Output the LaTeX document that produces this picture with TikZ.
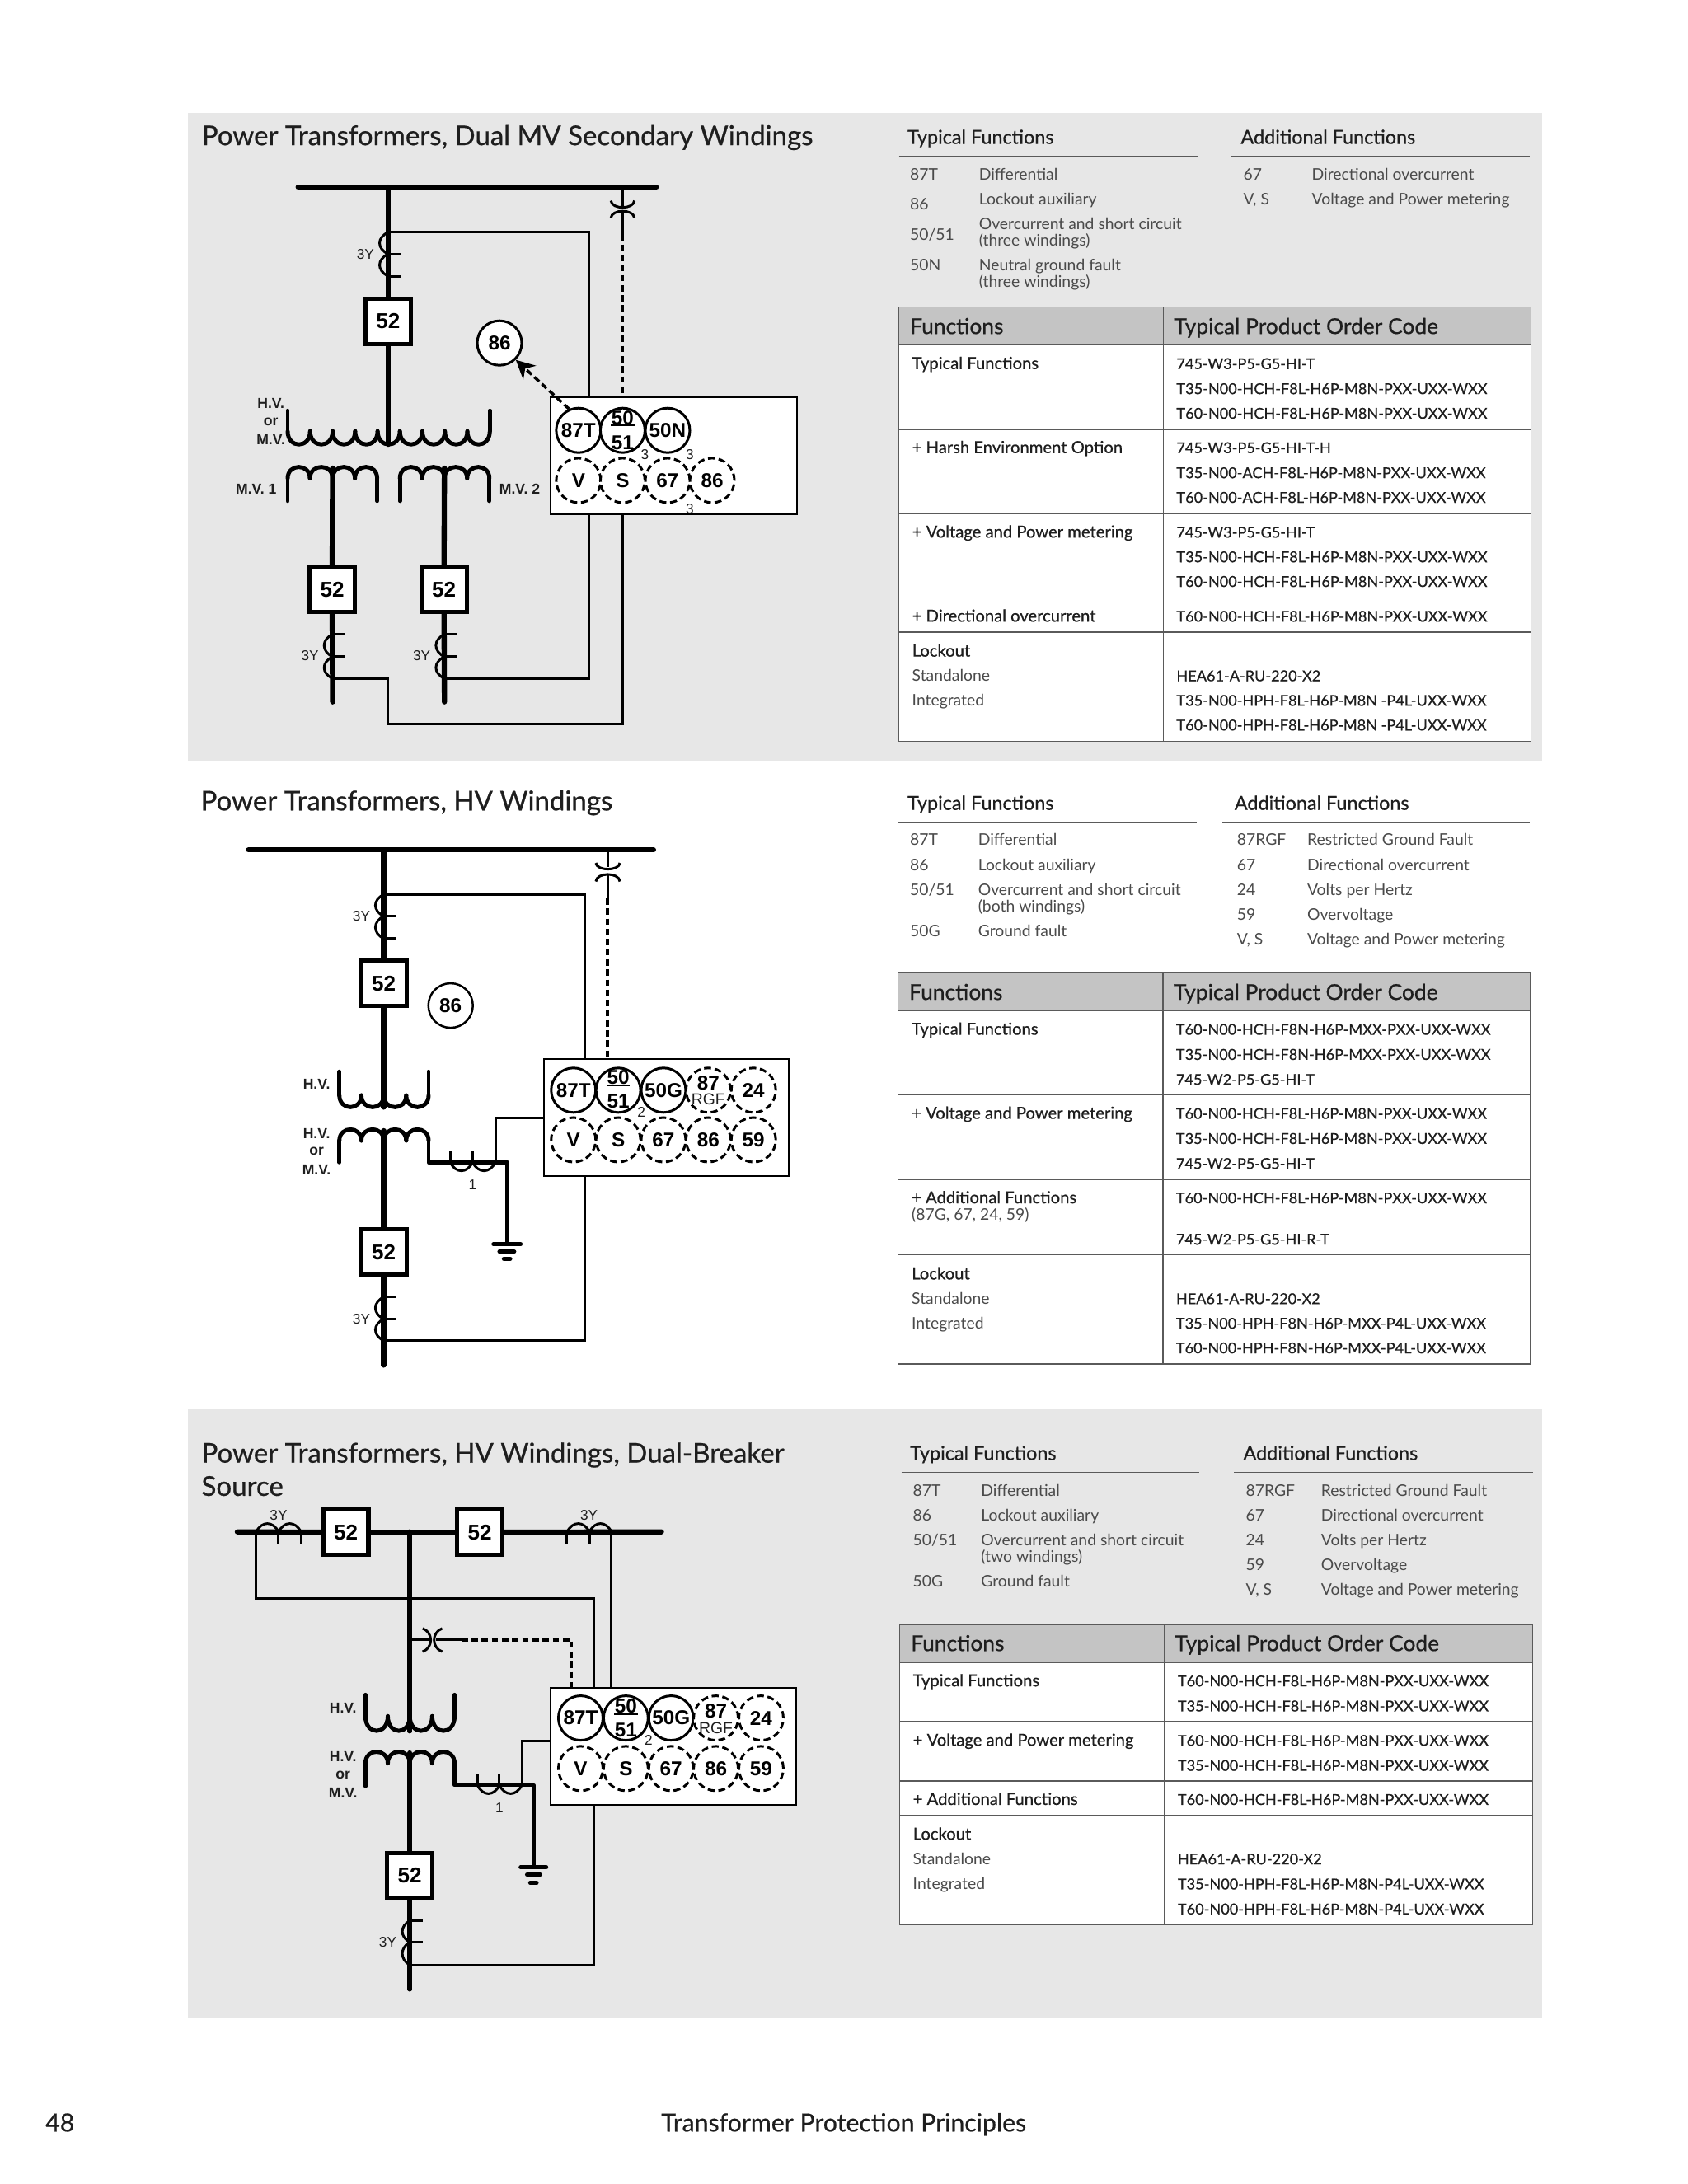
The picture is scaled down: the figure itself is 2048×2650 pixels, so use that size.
\documentclass[tikz,border=0pt]{standalone}
\usepackage{fontspec}
\usetikzlibrary{arrows.meta}
\setmainfont{Lato}
\newfontfamily\gebody{Lato}
\newfontfamily\gemed[FakeBold=0.6]{Lato}
\newfontfamily\relayf{Liberation Sans}
\definecolor{panelgrey}{HTML}{E7E7E7}
\definecolor{headgrey}{HTML}{C4C4C4}
\definecolor{bodygrey}{HTML}{4A4A4A}
\definecolor{darktxt}{HTML}{1E1E1E}
\definecolor{tablegrey}{HTML}{5A5A5A}
\tikzset{
  zone/.style n args={4}{shift={(#1,#2)},x=#3cm,y=-#4cm},
  bus/.style={line width=1.8pt,line cap=round,line join=round},
  wire/.style={line width=.85pt},
  wind/.style={line width=1.4pt,line cap=round,line join=round},
  dashlink/.style={line width=1pt,dash pattern=on 2.2pt off 1.3pt},
  brk/.style={draw,fill=white,line width=1.45pt,minimum size=.55cm,inner sep=0pt,font=\relayf\bfseries\fontsize{7.4pt}{9pt}\selectfont},
  relay/.style={circle,draw,fill=white,line width=.85pt,minimum size=.54cm,inner sep=0pt,font=\relayf\bfseries\fontsize{6.9pt}{8pt}\selectfont},
  relayopt/.style={relay,dash pattern=on 2.4pt off 1.3pt},
  relaybox/.style={draw,fill=white,line width=.55pt,inner sep=0pt},
  rtxt/.style={inner sep=0pt,font=\relayf\bfseries\fontsize{6.9pt}{8pt}\selectfont},
  small/.style={inner sep=0pt,text=darktxt,font=\relayf\fontsize{4.9pt}{6pt}\selectfont},
  tag/.style={inner sep=0pt,align=right,text=darktxt,font=\relayf\bfseries\fontsize{5pt}{6pt}\selectfont},
  ttl/.style={anchor=west,xshift=-.4pt,inner sep=0pt,text=darktxt,text height=8.2pt,text depth=1.8pt,font=\gemed\fontsize{9.4pt}{11pt}\selectfont},
  head/.style={anchor=west,xshift=-.4pt,inner sep=0pt,text=darktxt,text height=5.6pt,text depth=1.2pt,font=\gemed\fontsize{6.65pt}{8pt}\selectfont},
  col/.style={anchor=west,xshift=-.4pt,inner sep=0pt,text=darktxt,text height=6.2pt,text depth=1.4pt,font=\gemed\fontsize{7.5pt}{9pt}\selectfont},
  txt/.style={anchor=west,xshift=-.4pt,inner sep=0pt,text=bodygrey,text height=5.2pt,text depth=1.1pt,font=\gebody\fontsize{5.5pt}{7pt}\selectfont},
  lab/.style={anchor=west,xshift=-.4pt,inner sep=0pt,text=darktxt,text height=5.2pt,text depth=1.1pt,font=\gemed\fontsize{5.75pt}{7pt}\selectfont},
  code/.style={anchor=west,xshift=-.4pt,inner sep=0pt,text=darktxt,text height=5.2pt,text depth=1.1pt,font=\gemed\fontsize{5.15pt}{7pt}\selectfont},
  rule/.style={line width=.3pt,draw=tablegrey},
  tbl/.style={line width=.4pt,draw=tablegrey}
}
% two coils on a vertical or a horizontal run
\newcommand{\coilv}[5]{\draw[wire] (#1,#2) .. controls (#5,{#2+.25*(#3-#2)}) and (#5,{#2+.75*(#3-#2)}) .. (#1,#3) .. controls (#5,{#3+.25*(#4-#3)}) and (#5,{#3+.75*(#4-#3)}) .. (#1,#4);}
\newcommand{\coilh}[5]{\draw[wire] (#2,#1) .. controls ({#2+.25*(#3-#2)},#5) and ({#2+.75*(#3-#2)},#5) .. (#3,#1) .. controls ({#3+.25*(#4-#3)},#5) and ({#3+.75*(#4-#3)},#5) .. (#4,#1);}
\begin{document}
\begin{tikzpicture}[x=0.01cm,y=-0.01cm]
\useasboundingbox (0,0) rectangle (2048,2650);
\fill[panelgrey] (228,137) rectangle (1871,923);
\fill[panelgrey] (228,1710) rectangle (1871,2448);

%% first diagram
\begin{scope}[zone={220}{130}{.005102}{.004975}]
\node[ttl] (aTitle) at (50,70) {Power Transformers, Dual MV Secondary Windings};
\coordinate (aBusW) at (278,195);
\coordinate (aBusE) at (1130,195);
\coordinate (aTap) at (492,195);
\coordinate (aVt) at (1050,195);
\node[brk] (aBrk) at (492,522) {52};
\node[brk] (aBrkL) at (359,1176) {52};
\node[brk] (aBrkR) at (625,1176) {52};
\node[relaybox,minimum width=2.995cm,minimum height=1.42cm] (aRelay) at (1171.5,850) {};
\coordinate (aCtT) at (492,305);
\coordinate (aCtL) at (360,1393);
\coordinate (aCtR) at (626,1393);
\coordinate (aTie) at (970,305);
\coordinate (aLow) at (492,1503);
\draw[bus] (aBusW) -- (aBusE);
\draw[bus] (aTap) -- (aBrk.north);
\draw[bus] (aBrk.south) -- (492,822);
\draw[bus] (360,880) -- (aBrkL.north);
\draw[bus] (626,880) -- (aBrkR.north);
\draw[bus] (aBrkL.south) -- (360,1450);
\draw[bus] (aBrkR.south) -- (626,1450);
\draw[wire] (aCtT) -- (aTie) -- (aTie |- aRelay.north);
\draw[wire] (aTie |- aRelay.south) -- (aTie |- aCtR) -- (aCtR);
\draw[wire] (aCtL) -- (aLow |- aCtL) -- (aLow) -- (1050,1503) -- (1050,993);
\coilv{492}{305}{358}{412}{465}
\coilv{360}{1285}{1340}{1393}{333}
\coilv{626}{1285}{1340}{1393}{599}
\draw[wire] (492,358) -- (522,358) (492,412) -- (522,412);
\draw[wire] (360,1285) -- (388,1285) (360,1340) -- (388,1340);
\draw[wire] (626,1285) -- (656,1285) (626,1340) -- (656,1340);
% potential transformer
\draw[wire] (aVt) -- (1050,242);
\draw[wire] (1022,228) .. controls (1024,250) and (1076,250) .. (1078,228);
\draw[wire] (1022,270) .. controls (1024,248) and (1076,248) .. (1078,270);
\draw[wire] (1050,255) -- (1050,310);
\draw[dashlink] (1050,310) -- (aVt |- aRelay.north);
% windings
\draw[wind] (253,740) -- (253,790) (734,740) -- (734,790);
\foreach \xa/\xb in {253/306.5,306.5/360,360/413.5,413.5/467,467/520,520/573.5,573.5/627,627/680.5,680.5/734}
  \draw[wind] (\xa,790) .. controls (\xa,833) and (\xb,833) .. (\xb,790);
\draw[wind] (253,960) -- (253,905) (466,960) -- (466,905) (520,960) -- (520,905) (733,960) -- (733,905);
\foreach \xa/\xb in {253/306,306/360,360/413,413/466,520/573,573/626,626/680,680/733}
  \draw[wind] (\xa,905) .. controls (\xa,868) and (\xb,868) .. (\xb,905);
\node[tag] (aHv) at (213,722) {H.V.};
\node[tag] (aOr) at (213,767) {or};
\node[tag] (aMv) at (213,810) {M.V.};
\node[tag] (aMvL) at (178,931) {M.V. 1};
\node[tag] (aMvR) at (805,931) {M.V. 2};
\node[small] (aYt) at (438,358) {3Y};
\node[small] (aYl) at (306,1338) {3Y};
\node[small] (aYr) at (572,1338) {3Y};
\node[relay] (aLock) at (757,575) {86};
\foreach \xa/\lab [count=\n] in {945/87T,1050/,1157/50N}
  \node[relay] (aOn\n) at (\xa,788) {\lab};
\foreach \xa/\lab [count=\n] in {945/V,1050/S,1157/67,1263/86}
  \node[relayopt] (aOpt\n) at (\xa,910) {\lab};
\node[rtxt] (aF) at (1050,757) {50};
\node[rtxt] (aG) at (1050,818) {51};
\draw[wire,line width=.6pt,yshift=-.5pt] (aF.south west) -- (aF.south east);
\node[small] (aNa) at (1103,848) {3};
\node[small] (aNb) at (1210,848) {3};
\node[small] (aNc) at (1210,980) {3};
\draw[dashlink,-{Stealth[length=6.5pt,width=6.5pt]}] (aOn1.114) -- (aLock.-46);
\end{scope}

%% first tables
\begin{scope}[zone={1060}{130}{.005102}{.004975}]
\node[head] (aHa) at (82,74) {Typical Functions};
\node[head] (aHb) at (875,74) {Additional Functions};
\draw[rule] (60,120) -- (770,120) (851,120) -- (1560,120);
\foreach \ya/\lab [count=\n] in {163/87T,236/86,310/{50/51},385/50N}
  \node[txt] (aCa\n) at (88,\ya) {\lab};
\foreach \ya/\lab [count=\n] in {163/Differential,223/Lockout auxiliary,284/Overcurrent and short circuit,325/(three windings),385/Neutral ground fault,425/(three windings)}
  \node[txt] (aCb\n) at (252,\ya) {\lab};
\node[txt] (aCc) at (881,163) {67};
\node[txt] (aCd) at (881,223) {V, S};
\node[txt] (aCe) at (1044,163) {Directional overcurrent};
\node[txt] (aCf) at (1044,223) {Voltage and Power metering};
\fill[white] (60,487) rectangle (1564,1546);
\fill[headgrey] (60,487) rectangle (1564,580);
\draw[tbl] (60,487) rectangle (1564,1546);
\foreach \ya in {580,786,991,1196,1280} \draw[tbl] (60,\ya) -- (1564,\ya);
\draw[tbl] (689,487) -- (689,1546);
\node[col] (aTa) at (88,536) {Functions};
\node[col] (aTb) at (716,536) {Typical Product Order Code};
\foreach \ya/\lab [count=\n] in {624/Typical Functions,829/+ Harsh Environment Option,1035/+ Voltage and Power metering,1240/+ Directional overcurrent,1325/Lockout}
  \node[lab] (aRa\n) at (93,\ya) {\lab};
\node[txt] (aRs) at (93,1385) {Standalone};
\node[txt] (aRi) at (93,1445) {Integrated};
\foreach \ya/\lab [count=\n] in {624/745-W3-P5-G5-HI-T,685/T35-N00-HCH-F8L-H6P-M8N-PXX-UXX-WXX,745/T60-N00-HCH-F8L-H6P-M8N-PXX-UXX-WXX,829/745-W3-P5-G5-HI-T-H,890/T35-N00-ACH-F8L-H6P-M8N-PXX-UXX-WXX,950/T60-N00-ACH-F8L-H6P-M8N-PXX-UXX-WXX,1035/745-W3-P5-G5-HI-T,1095/T35-N00-HCH-F8L-H6P-M8N-PXX-UXX-WXX,1155/T60-N00-HCH-F8L-H6P-M8N-PXX-UXX-WXX,1240/T60-N00-HCH-F8L-H6P-M8N-PXX-UXX-WXX,1385/HEA61-A-RU-220-X2,1445/T35-N00-HPH-F8L-H6P-M8N -P4L-UXX-WXX,1505/T60-N00-HPH-F8L-H6P-M8N -P4L-UXX-WXX}
  \node[code] (aRb\n) at (722,\ya) {\lab};
\end{scope}

%% second diagram
\begin{scope}[zone={220}{930}{.004847}{.004783}]
\node[ttl] (bTitle) at (50,88) {Power Transformers, HV Windings};
\coordinate (bBusW) at (168,212);
\coordinate (bBusE) at (1180,212);
\coordinate (bTap) at (506,212);
\coordinate (bVt) at (1065,212);
\node[brk] (bBrk) at (506,551) {52};
\node[brk] (bBrkL) at (506,1233) {52};
\node[relaybox,minimum width=2.97cm,minimum height=1.415cm] (bRelay) at (1212.5,892) {};
\coordinate (bCtT) at (506,325);
\coordinate (bCtL) at (506,1458);
\coordinate (bTie) at (1008,325);
\coordinate (bNeu) at (618,1005);
\coordinate (bGnd) at (815,1210);
\coordinate (bCtN) at (785,1005);
\draw[bus] (bBusW) -- (bBusE);
\draw[bus] (bTap) -- (bBrk.north);
\draw[bus] (bBrk.south) -- (506,865);
\draw[bus] (506,925) -- (bBrkL.north);
\draw[bus] (bBrkL.south) -- (506,1520);
\draw[wire] (bCtT) -- (bTie) -- (bTie |- bRelay.north);
\draw[wire] (bTie |- bRelay.south) -- (bTie |- bCtL) -- (bCtL);
\coilv{506}{325}{380}{437}{478}
\coilv{506}{1347}{1403}{1458}{478}
\draw[wire] (506,380) -- (538,380) (506,437) -- (538,437);
\draw[wire] (506,1347) -- (538,1347) (506,1403) -- (538,1403);
\draw[wire] (bVt) -- (1065,256);
\draw[wire] (1036,245) .. controls (1038,266) and (1094,266) .. (1096,245);
\draw[wire] (1036,292) .. controls (1038,268) and (1094,268) .. (1096,292);
\draw[wire] (1065,272) -- (1065,335);
\draw[dashlink] (1065,335) -- (bVt |- bRelay.north);
\draw[wind] (395,775) -- (395,835) (618,775) -- (618,835);
\foreach \xa/\xb in {395/450,450/506,506/562,562/618}
  \draw[wind] (\xa,835) .. controls (\xa,875) and (\xb,875) .. (\xb,835);
\foreach \xa/\xb in {395/450,450/506,506/562,562/618}
  \draw[wind] (\xa,950) .. controls (\xa,912) and (\xb,912) .. (\xb,950);
\draw[wind] (395,950) -- (395,1005);
\draw[wind] (618,950) -- (bNeu) -- (bNeu -| bGnd) -- (bGnd);
\draw[wind] (780,1213) -- (848,1213);
\draw[wind] (795,1232) -- (832,1232);
\draw[wind] (806,1250) -- (822,1250);
\coilh{1005}{672}{728}{785}{1034}
\draw[wire] (672,1005) -- (672,975) (728,1005) -- (728,975);
\draw[wire] (bCtN) -- (785,892) -- (905,892);
\node[small] (bOne) at (728,1062) {1};
\node[tag] (bHv) at (338,807) {H.V.};
\node[tag] (bHw) at (338,932) {H.V.};
\node[tag] (bOr) at (338,978) {or};
\node[tag] (bMv) at (338,1024) {M.V.};
\node[small] (bYt) at (450,380) {3Y};
\node[small] (bYl) at (450,1403) {3Y};
\node[relay,line width=.7pt] (bLock) at (673,607) {86};
\foreach \xa/\lab [count=\n] in {980/87T,1092/,1205/50G}
  \node[relay] (bOn\n) at (\xa,822) {\lab};
\node[relayopt] (bOn4) at (1317,822) {};
\node[relayopt] (bOn5) at (1430,822) {24};
\foreach \xa/\lab [count=\n] in {980/V,1092/S,1205/67,1317/86,1430/59}
  \node[relayopt] (bOpt\n) at (\xa,948) {\lab};
\node[rtxt] (bF) at (1092,790) {50};
\node[rtxt] (bG) at (1092,851) {51};
\draw[wire,line width=.6pt,yshift=-.5pt] (bF.south west) -- (bF.south east);
\node[rtxt] (bH) at (1317,803) {87};
\node[small,font=\relayf\fontsize{5.5pt}{6pt}\selectfont] (bI) at (1317,846) {RGF};
\node[small] (bNa) at (1150,878) {2};
\end{scope}

%% second tables
\begin{scope}[zone={1060}{940}{.005102}{.004592}]
\node[head] (bHa) at (82,76) {Typical Functions};
\node[head] (bHb) at (860,76) {Additional Functions};
\draw[rule] (58,125) -- (768,125) (830,125) -- (1560,125);
\foreach \ya/\lab [count=\n] in {171/87T,237/86,303/{50/51},412/50G}
  \node[txt] (bCa\n) at (88,\ya) {\lab};
\foreach \ya/\lab [count=\n] in {171/Differential,237/Lockout auxiliary,303/Overcurrent and short circuit,347/(both windings),412/Ground fault}
  \node[txt] (bCb\n) at (250,\ya) {\lab};
\foreach \ya/\lab [count=\n] in {171/87RGF,237/67,303/24,369/59,434/{V, S}}
  \node[txt] (bCc\n) at (866,\ya) {\lab};
\foreach \ya/\lab [count=\n] in {171/Restricted Ground Fault,237/Directional overcurrent,303/Volts per Hertz,369/Overvoltage,434/Voltage and Power metering}
  \node[txt] (bCd\n) at (1033,\ya) {\lab};
\fill[headgrey] (58,522) rectangle (1563,624);
\draw[tbl] (58,522) rectangle (1563,1556);
\foreach \ya in {624,846,1068,1268} \draw[tbl] (58,\ya) -- (1563,\ya);
\draw[tbl] (688,522) -- (688,1556);
\node[col] (bTa) at (86,576) {Functions};
\node[col] (bTb) at (715,576) {Typical Product Order Code};
\foreach \ya/\lab [count=\n] in {671/Typical Functions,893/+ Voltage and Power metering,1116/+ Additional Functions,1317/Lockout}
  \node[lab] (bRa\n) at (92,\ya) {\lab};
\node[txt] (bRx) at (92,1160) {(87G, 67, 24, 59)};
\node[txt] (bRs) at (92,1382) {Standalone};
\node[txt] (bRi) at (92,1447) {Integrated};
\foreach \ya/\lab [count=\n] in {671/T60-N00-HCH-F8N-H6P-MXX-PXX-UXX-WXX,737/T35-N00-HCH-F8N-H6P-MXX-PXX-UXX-WXX,803/745-W2-P5-G5-HI-T,893/T60-N00-HCH-F8L-H6P-M8N-PXX-UXX-WXX,959/T35-N00-HCH-F8L-H6P-M8N-PXX-UXX-WXX,1025/745-W2-P5-G5-HI-T,1116/T60-N00-HCH-F8L-H6P-M8N-PXX-UXX-WXX,1225/745-W2-P5-G5-HI-R-T,1382/HEA61-A-RU-220-X2,1447/T35-N00-HPH-F8N-H6P-MXX-P4L-UXX-WXX,1512/T60-N00-HPH-F8N-H6P-MXX-P4L-UXX-WXX}
  \node[code] (bRb\n) at (721,\ya) {\lab};
\end{scope}

%% third diagram
\begin{scope}[zone={220}{1720}{.004847}{.004464}]
\node[ttl] (cTitle) at (52,97) {Power Transformers, HV Windings, Dual-Breaker};
\node[ttl] (cTitleb) at (52,187) {Source};
\coordinate (cBusW) at (140,310);
\coordinate (cBusE) at (1200,310);
\coordinate (cTap) at (571,310);
\node[brk] (cBrkL) at (411,311) {52};
\node[brk] (cBrkR) at (746,311) {52};
\node[brk] (cBrk) at (571,1243) {52};
\node[relaybox,minimum width=2.98cm,minimum height=1.42cm] (cRelay) at (1230.5,892.5) {};
\coordinate (cCtL) at (187,310);
\coordinate (cCtR) at (1075,310);
\coordinate (cTie) at (1030,491);
\coordinate (cCtB) at (571,1485);
\coordinate (cNeu) at (683,997);
\coordinate (cGnd) at (880,1218);
\coordinate (cCtN) at (851,997);
\draw[bus] (cBusW) -- (cBrkL.west);
\draw[bus] (cBrkL.east) -- (cBrkR.west);
\draw[bus] (cBrkR.east) -- (cBusE);
\draw[bus] (cTap) -- (571,850);
\draw[bus] (571,910) -- (cBrk.north);
\draw[bus] (cBrk.south) -- (571,1550);
\draw[wire] (cCtL) -- (cCtL |- cTie) -- (cTie) -- (cTie |- cRelay.north);
\draw[wire] (cTie |- cRelay.south) -- (cTie |- cCtB) -- (cCtB);
\draw[wire] (cCtR) -- (cCtR |- cRelay.north);
\coilh{310}{187}{243}{299}{280}
\draw[wire] (243,310) -- (243,345) (299,310) -- (299,345);
\coilh{310}{964}{1020}{1075}{280}
\draw[wire] (964,310) -- (964,345) (1020,310) -- (1020,345);
\coilv{571}{1365}{1423}{1485}{546}
\draw[wire] (571,1365) -- (603,1365) (571,1423) -- (603,1423);
% potential transformer
\draw[wire] (571,603) -- (620,603);
\draw[wire] (603,572) .. controls (630,582) and (630,625) .. (603,635);
\draw[wire] (652,572) .. controls (625,582) and (625,625) .. (652,635);
\draw[wire] (637,603) -- (700,603);
\draw[dashlink] (700,603) -- (975,603) -- (975,733);
\draw[wind] (460,752) -- (460,810) (683,752) -- (683,810);
\foreach \xa/\xb in {460/516,516/571,571/627,627/683}
  \draw[wind] (\xa,810) .. controls (\xa,863) and (\xb,863) .. (\xb,810);
\foreach \xa/\xb in {460/516,516/571,571/627,627/683}
  \draw[wind] (\xa,938) .. controls (\xa,896) and (\xb,896) .. (\xb,938);
\draw[wind] (460,938) -- (460,1000);
\draw[wind] (683,938) -- (cNeu) -- (cNeu -| cGnd) -- (cGnd);
\draw[wind] (848,1220) -- (912,1220);
\draw[wind] (864,1240) -- (897,1240);
\draw[wind] (872,1262) -- (888,1262);
\coilh{997}{740}{795}{851}{1028}
\draw[wire] (740,997) -- (740,968) (795,997) -- (795,968);
\draw[wire] (cCtN) -- (851,878) -- (922,878);
\node[small] (cOne) at (795,1058) {1};
\node[tag] (cHv) at (404,787) {H.V.};
\node[tag] (cHw) at (404,920) {H.V.};
\node[tag] (cOr) at (404,970) {or};
\node[tag] (cMv) at (404,1018) {M.V.};
\node[small] (cYa) at (243,264) {3Y};
\node[small] (cYb) at (1019,264) {3Y};
\node[small] (cYc) at (516,1423) {3Y};
\foreach \xa/\lab [count=\n] in {998/87T,1111/,1224/50G}
  \node[relay] (cOn\n) at (\xa,815) {\lab};
\node[relayopt] (cOn4) at (1336,815) {};
\node[relayopt] (cOn5) at (1449,815) {24};
\foreach \xa/\lab [count=\n] in {998/V,1111/S,1224/67,1336/86,1449/59}
  \node[relayopt] (cOpt\n) at (\xa,952) {\lab};
\node[rtxt] (cF) at (1111,783) {50};
\node[rtxt] (cG) at (1111,848) {51};
\draw[wire,line width=.6pt,yshift=-.5pt] (cF.south west) -- (cF.south east);
\node[rtxt] (cH) at (1336,797) {87};
\node[small,font=\relayf\fontsize{5.5pt}{6pt}\selectfont] (cI) at (1336,842) {RGF};
\node[small] (cNa) at (1168,876) {2};
\end{scope}

%% third tables
\begin{scope}[zone={1060}{1720}{.005102}{.004592}]
\node[head] (cHa) at (88,95) {Typical Functions};
\node[head] (cHb) at (881,95) {Additional Functions};
\draw[rule] (66,145) -- (775,145) (857,145) -- (1568,145);
\foreach \ya/\lab [count=\n] in {191/87T,257/86,323/{50/51},431/50G}
  \node[txt] (cCa\n) at (95,\ya) {\lab};
\foreach \ya/\lab [count=\n] in {191/Differential,257/Lockout auxiliary,323/Overcurrent and short circuit,366/(two windings),431/Ground fault}
  \node[txt] (cCb\n) at (257,\ya) {\lab};
\foreach \ya/\lab [count=\n] in {191/87RGF,257/67,323/24,388/59,453/{V, S}}
  \node[txt] (cCc\n) at (887,\ya) {\lab};
\foreach \ya/\lab [count=\n] in {191/Restricted Ground Fault,257/Directional overcurrent,323/Volts per Hertz,388/Overvoltage,453/Voltage and Power metering}
  \node[txt] (cCd\n) at (1066,\ya) {\lab};
\fill[white] (62,546) rectangle (1568,1339);
\fill[headgrey] (62,546) rectangle (1568,647);
\draw[tbl] (62,546) rectangle (1568,1339);
\foreach \ya in {647,803,960,1051} \draw[tbl] (62,\ya) -- (1568,\ya);
\draw[tbl] (691,546) -- (691,1339);
\node[col] (cTa) at (90,598) {Functions};
\node[col] (cTb) at (718,598) {Typical Product Order Code};
\foreach \ya/\lab [count=\n] in {694/Typical Functions,851/+ Voltage and Power metering,1007/+ Additional Functions,1099/Lockout}
  \node[lab] (cRa\n) at (95,\ya) {\lab};
\node[txt] (cRs) at (95,1164) {Standalone};
\node[txt] (cRi) at (95,1230) {Integrated};
\foreach \ya/\lab [count=\n] in {694/T60-N00-HCH-F8L-H6P-M8N-PXX-UXX-WXX,760/T35-N00-HCH-F8L-H6P-M8N-PXX-UXX-WXX,851/T60-N00-HCH-F8L-H6P-M8N-PXX-UXX-WXX,917/T35-N00-HCH-F8L-H6P-M8N-PXX-UXX-WXX,1007/T60-N00-HCH-F8L-H6P-M8N-PXX-UXX-WXX,1164/HEA61-A-RU-220-X2,1230/T35-N00-HPH-F8L-H6P-M8N-P4L-UXX-WXX,1296/T60-N00-HPH-F8L-H6P-M8N-P4L-UXX-WXX}
  \node[code] (cRb\n) at (725,\ya) {\lab};
\end{scope}

% page foot
\node[ttl,font=\gemed\fontsize{8.6pt}{10pt}\selectfont] (pageNo) at (56,2575) {48};
\node[ttl,font=\gemed\fontsize{8.6pt}{10pt}\selectfont] (pageFoot) at (803,2575) {Transformer Protection Principles};
\end{tikzpicture}
\end{document}
